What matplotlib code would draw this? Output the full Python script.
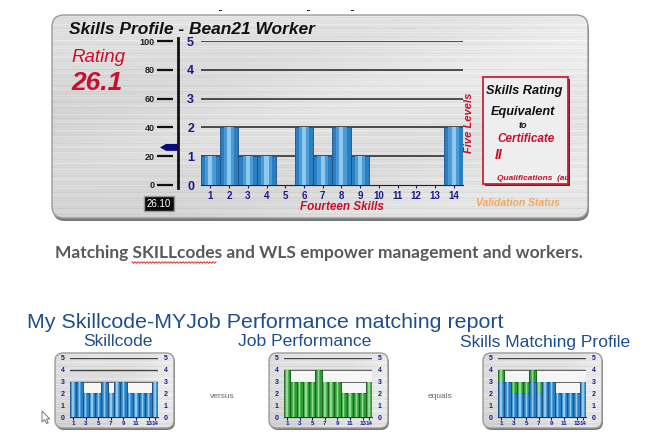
import numpy as np
import matplotlib
matplotlib.use('Agg')
import matplotlib.pyplot as plt
from matplotlib.patches import FancyBboxPatch, Rectangle, Polygon
import matplotlib.transforms as mtransforms

plt.rcParams['font.family'] = ['Liberation Sans', 'DejaVu Sans']

W, H = 647, 442

# ---------------- data ----------------
skills = list(range(1, 15))
profile_levels = [1, 2, 1, 1, 0, 2, 1, 2, 1, 0, 0, 0, 0, 2]
rating = 26.1
rating_ticks = [0, 20, 40, 60, 80, 100]
level_ticks = [0, 1, 2, 3, 4, 5]
skillcode_levels = [3, 3, 2, 2, 2, 3, 2, 3, 3, 2, 2, 2, 2, 3]
jobperf_levels = [4, 3, 3, 3, 3, 4, 3, 3, 3, 2, 2, 2, 2, 3]
small_xticks = [1, 3, 5, 7, 9, 11, 13, 14]
certificate_level = "II"

RED = '#c8102e'
NAVY = '#1a1a8c'
BLUE_T = '#1f4e8c'

fig = plt.figure(figsize=(6.47, 4.42), dpi=100)
fig.patch.set_facecolor('white')
bg = fig.add_axes([0, 0, 1, 1])
bg.axis('off')


def fax(x0, y0, x1, y1):
    return [x0 / W, 1 - y1 / H, (x1 - x0) / W, (y1 - y0) / H]


def brushed(w, h, light=0.0):
    yy = np.arange(h)[:, None].astype(float)
    xx = np.arange(w)[None, :].astype(float)
    streak = (0.018 * np.sin(yy * 2.3) + 0.012 * np.sin(yy * 0.77 + 1.3)
              + 0.010 * np.sin(yy * 5.1 + 0.4))
    grad = 0.06 * (xx / w) - 0.03 * (yy / h)
    wave = 0.015 * np.sin(xx / w * np.pi * 2 + yy * 0.05)
    v = 0.86 + light + grad + streak + wave
    return np.clip(v, 0, 1)


def panel(x0, y0, x1, y1, r, shadow=3, light=0.0):
    style = f"round,pad=0,rounding_size={r}"
    sh = FancyBboxPatch((x0 + 1, y0 + shadow), x1 - x0, y1 - y0, boxstyle=style,
                        fc='#4a4a4a', ec='none', alpha=0.75, zorder=1)
    bg.add_patch(sh)
    p = FancyBboxPatch((x0, y0), x1 - x0, y1 - y0, boxstyle=style,
                       fc='#dcdcdc', ec='none', zorder=2)
    bg.add_patch(p)
    arr = brushed(int(x1 - x0), int(y1 - y0), light)
    im = bg.imshow(arr, cmap='gray', vmin=0, vmax=1, extent=(x0, x1, y1, y0),
                   zorder=2.1, aspect='auto', interpolation='bilinear')
    im.set_clip_path(p)
    bd = FancyBboxPatch((x0, y0), x1 - x0, y1 - y0, boxstyle=style,
                        fc='none', ec='#9a9a9a', lw=1.0, zorder=2.2)
    bg.add_patch(bd)


def cyl_bars(ax, values, base, mid, light, edge, z=3):
    ax.bar(skills, values, width=1.0, color=base, edgecolor=edge, lw=0.6, zorder=z)
    ax.bar(skills, values, width=0.55, color=mid, lw=0, zorder=z + 0.1)
    ax.bar(skills, values, width=0.22, color=light, lw=0, zorder=z + 0.2)


def level_boxes(ax, tops):
    tops = np.asarray(tops)
    mx = int(tops.max())
    for L in range(mx):
        mask = tops <= L
        i = 0
        while i < len(tops):
            if mask[i]:
                j = i
                while j + 1 < len(tops) and mask[j + 1]:
                    j += 1
                ax.add_patch(Rectangle((skills[i] - 0.5, L), j - i + 1, 1,
                                       fc='#f6f6f6', ec='#666666', lw=0.7, zorder=2))
                i = j + 1
            else:
                i += 1
    return mx


# ---------------- top fragments ----------------
for fx in [219, 307, 351]:
    bg.add_patch(Rectangle((fx, 9.8), 3, 1.6, fc='#222222', ec='none', zorder=1))

# ---------------- main panel ----------------
panel(52, 15, 588, 218, r=12, shadow=3)

bg.text(69, 29, "Skills Profile - Bean21 Worker", fontsize=12.5, fontweight='bold',
        style='italic', color='#111111', ha='left', va='center', zorder=5)
bg.text(98, 57, "Rating", fontsize=13.5, style='italic', color=RED,
        ha='center', va='center', zorder=5)
bg.text(97, 83, f"{rating:.1f}", fontsize=19, fontweight='bold', style='italic',
        color=RED, ha='center', va='center', zorder=5)

bg.add_patch(Rectangle((144, 196), 30, 15, fc='#0a0a0a', ec='#9a9a9a', lw=1, zorder=5))
bg.text(159, 203.8, f"{rating:.2f}", fontsize=7, color='white', ha='center',
        va='center', zorder=6)

# right info box
bg.add_patch(Rectangle((485, 79), 85, 107, fc='#3a3a3a', ec='none', zorder=4))
bg.add_patch(Rectangle((483, 77), 85, 107, fc='#eeeeee', ec='#cc2233', lw=1.3, zorder=4.5))
bg.text(524, 91, "Skills Rating", fontsize=9.2, fontweight='bold', style='italic',
        color='#111111', ha='center', va='center', zorder=6)
bg.text(523, 112, "Equivalent", fontsize=9.2, fontweight='bold', style='italic',
        color='#111111', ha='center', va='center', zorder=6)
bg.text(523, 126, "to", fontsize=6.5, fontweight='bold', style='italic',
        color='#111111', ha='center', va='center', zorder=6)
bg.text(526, 139, "Certificate", fontsize=8.5, fontweight='bold', style='italic',
        color=RED, ha='center', va='center', zorder=6)
bg.text(499, 155, certificate_level, fontsize=10, fontweight='bold', style='italic',
        color=RED, ha='center', va='center', zorder=6)
bg.text(497, 178, "Qualifications  (au", fontsize=6, fontweight='bold', style='italic',
        color=RED, ha='left', va='center', zorder=6)
bg.text(518, 203, "Validation Status", fontsize=7.5, fontweight='bold', style='italic',
        color='#f5a65b', ha='center', va='center', zorder=6)
bg.text(342, 207.5, "Fourteen Skills", fontsize=8.5, fontweight='bold', style='italic',
        color=RED, ha='center', va='center', zorder=6)
bg.text(469, 123, "Five Levels", fontsize=8, fontweight='bold', style='italic',
        color=RED, ha='center', va='center', rotation=90, zorder=6)

# ---------------- caption ----------------
bg.text(55, 253, "Matching SKILLcodes and WLS empower management and workers.",
        fontfamily='Lato', fontweight='bold', fontsize=12.5, color='#595959',
        ha='left', va='center', zorder=6)
wx = np.arange(132, 216.1, 1.5)
wy = 262.5 + 0.8 * ((np.arange(len(wx)) % 2) * 2 - 1)
bg.plot(wx, wy, color='#e03030', lw=0.7, zorder=6)

# ---------------- lower report ----------------
bg.text(27, 323, "My Skillcode-MYJob Performance matching report", fontsize=15.4,
        color=BLUE_T, ha='left', va='center', zorder=6)
small_titles = ["Skillcode", "Job Performance", "Skills Matching Profile"]
title_x = [118, 305, 545]
for t, tx in zip(small_titles, title_x):
    bg.text(tx, 342, t, fontsize=12.6, color=BLUE_T, ha='center', va='center', zorder=6)
bg.text(222, 397, "versus", fontsize=6, color='#666666', ha='center', va='center', zorder=6)
bg.text(440, 397, "equals", fontsize=6, color='#666666', ha='center', va='center', zorder=6)

# cursor
cx, cy = 42, 411
cur = [(0, 0), (0, 11), (2.6, 8.6), (4.6, 12.6), (6.2, 11.8), (4.4, 8), (7.8, 8)]
bg.add_patch(Polygon([(cx + a, cy + b) for a, b in cur], closed=True, fc='white',
                     ec='#777777', lw=0.7, zorder=6))

panel_lefts = [55, 269, 483]
for pl in panel_lefts:
    panel(pl, 353, pl + 119, 428, r=8, shadow=2)

bg.set_xlim(0, W)
bg.set_ylim(H, 0)

# ---------------- main bar chart ----------------
ax = fig.add_axes(fax(201, 41, 463, 185))
ax.patch.set_alpha(0)
ax.set_xlim(0.5, 14.5)
ax.set_ylim(0, 5)
for L in level_ticks[1:]:
    ax.axhline(L, color='#222222', lw=1.1, zorder=1)
cyl_bars(ax, profile_levels, '#2a7fc0', '#4a9ad6', '#8fcaee', '#1c4f86')
for s in ['top', 'right', 'left']:
    ax.spines[s].set_visible(False)
ax.spines['bottom'].set_color('#222222')
ax.set_xticks(skills)
ax.set_xticklabels([str(s) for s in skills], fontsize=7, fontweight='bold', color=NAVY)
ax.tick_params(axis='x', length=2.5, color=NAVY, pad=1.5)
ax.set_yticks(level_ticks)
ax.set_yticklabels([str(v) for v in level_ticks], fontsize=9, fontweight='bold', color=NAVY)
ax.tick_params(axis='y', length=0, pad=5)

# rating scale
ax_r = fig.add_axes(fax(173, 38, 178, 188))
ax_r.patch.set_alpha(0)
ax_r.set_xlim(0, 1)
ax_r.set_ylim(-2.1, 102.1)
for s in ['top', 'left', 'bottom']:
    ax_r.spines[s].set_visible(False)
ax_r.spines['right'].set_linewidth(2)
ax_r.spines['right'].set_color('#111111')
ax_r.set_xticks([])
ax_r.set_yticks(rating_ticks)
ax_r.set_yticklabels([str(v) for v in rating_ticks], fontsize=6.5, fontweight='bold',
                     color='#222222')
ax_r.tick_params(axis='y', direction='out', length=11.5, width=1.6, color='#111111', pad=1.5)

trans = mtransforms.blended_transform_factory(bg.transData, ax_r.transData)
arrow = Polygon([(160, rating), (166, rating + 2.4), (178, rating + 2.4),
                 (178, rating - 2.4), (166, rating - 2.4)], closed=True,
                fc='#0a0a7a', ec='none', transform=trans, zorder=8)
fig.add_artist(arrow)

# ---------------- small charts ----------------
def small_chart(pl, series):
    a = fig.add_axes(fax(pl + 15, 358, pl + 103, 417))
    a.patch.set_alpha(0)
    a.set_xlim(0.5, 14.5)
    a.set_ylim(0, 5)
    tops = np.max(np.array([v for v, _ in series]), axis=0)
    mx = level_boxes(a, tops)
    for L in range(mx, 6):
        a.axhline(L, color='#444444', lw=1.0, zorder=1)
    for k, (vals, kind) in enumerate(series):
        if kind == 'green':
            cyl_bars(a, vals, '#2e9a3a', '#4cb552', '#92d892', '#1b5e20', z=3 + k)
        else:
            cyl_bars(a, vals, '#2a7fc0', '#4a9ad6', '#8fcaee', '#1c4f86', z=3 + k)
    for s in ['top', 'right', 'left']:
        a.spines[s].set_visible(False)
    a.spines['bottom'].set_color('#333333')
    a.spines['bottom'].set_linewidth(0.8)
    a.set_xticks(small_xticks)
    a.set_xticklabels([str(v) for v in small_xticks], fontsize=4.5, fontweight='bold',
                      color=NAVY)
    a.tick_params(axis='x', length=2, color=NAVY, pad=1)
    a.set_yticks(level_ticks)
    a.set_yticklabels([str(v) for v in level_ticks], fontsize=5, fontweight='bold', color=NAVY)
    a.tick_params(axis='y', length=0, pad=4, labelleft=True, labelright=True)


small_chart(panel_lefts[0], [(skillcode_levels, 'blue')])
small_chart(panel_lefts[1], [(jobperf_levels, 'green')])
small_chart(panel_lefts[2], [(jobperf_levels, 'green'), (skillcode_levels, 'blue')])

fig.savefig('out.png', dpi=100)
